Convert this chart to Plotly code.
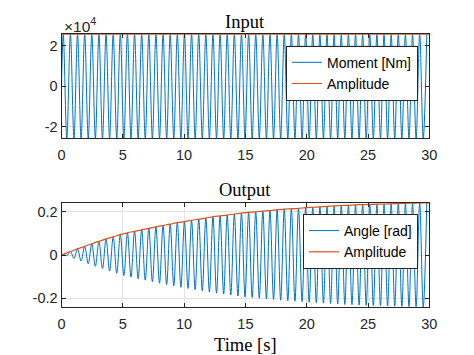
import plotly.graph_objects as go

# ---------------- data ----------------
time_ticks = [0, 5, 10, 15, 20, 25, 30]
input_ytick_vals = [-2e4, 0, 2e4]
input_ytick_text = ["-2", "0", "2"]
output_ytick_vals = [-0.2, 0, 0.2]
output_ytick_text = ["-0.2", "0", "0.2"]

signal_freq_hz = 1.72          # oscillation frequency (cycles per second)
t_end = 30.0
input_amplitude = 2.58e4       # Moment amplitude [Nm]

# output amplitude per oscillation cycle (peak of each cycle)
output_cycle_amplitude = [
    0.003, 0.016, 0.028, 0.040, 0.052, 0.063, 0.074, 0.084, 0.094, 0.102,
    0.109, 0.116, 0.123, 0.130, 0.136, 0.142, 0.149, 0.154, 0.160, 0.165,
    0.170, 0.176, 0.180, 0.184, 0.189, 0.193, 0.196, 0.199, 0.202, 0.205,
    0.208, 0.211, 0.213, 0.215, 0.218, 0.220, 0.222, 0.224, 0.226, 0.228,
    0.229, 0.231, 0.232, 0.233, 0.234, 0.235, 0.236, 0.237, 0.238, 0.239,
    0.240, 0.240,
]

BLUE = "#0072BD"
ORANGE = "#D95319"
AX = "#262626"

# ---------------- build traces ----------------
period = 1.0 / signal_freq_hz
n_cycles = len(output_cycle_amplitude)

in_t, in_y = [0.0], [0.0]
out_t, out_y = [0.0], [0.0]
peak_t = [0.0]
peak_y = [0.0]
for k in range(n_cycles):
    tp = (k + 0.25) * period
    tn = (k + 0.75) * period
    a = output_cycle_amplitude[k]
    for tt, yi, yo in ((tp, input_amplitude, a), (tn, -input_amplitude, -a)):
        if tt <= t_end:
            in_t.append(tt); in_y.append(yi)
            out_t.append(tt); out_y.append(yo)
    if tp <= t_end:
        peak_t.append(tp); peak_y.append(a)
peak_t.append(t_end); peak_y.append(output_cycle_amplitude[-1])

fig = go.Figure()
fig.add_trace(go.Scatter(x=in_t, y=in_y, mode="lines", name="Moment [Nm]",
                         line=dict(color=BLUE, width=1, shape="spline"),
                         xaxis="x", yaxis="y", legend="legend"))
fig.add_trace(go.Scatter(x=[0, t_end], y=[input_amplitude, input_amplitude], mode="lines",
                         name="Amplitude", line=dict(color=ORANGE, width=1.2),
                         xaxis="x", yaxis="y", legend="legend", cliponaxis=False))
fig.add_trace(go.Scatter(x=out_t, y=out_y, mode="lines", name="Angle [rad]",
                         line=dict(color=BLUE, width=1, shape="spline"),
                         xaxis="x2", yaxis="y2", legend="legend2"))
fig.add_trace(go.Scatter(x=peak_t, y=peak_y, mode="lines", name="Amplitude",
                         line=dict(color=ORANGE, width=1.2, shape="spline"),
                         xaxis="x2", yaxis="y2", legend="legend2", cliponaxis=False))

W, H = 474, 355
x0, x1 = 61.5 / W, 429.3 / W
top_dom = [(H - 138.3) / H, (H - 34.3) / H]
bot_dom = [(H - 307.3) / H, (H - 202.7) / H]

tickfont = dict(family="Liberation Sans, Arial, sans-serif", size=14.5, color=AX)
common_x = dict(range=[0, t_end], tickvals=time_ticks, ticktext=[str(v) for v in time_ticks],
                showline=True, linecolor=AX, linewidth=1, mirror="ticks", ticks="inside",
                ticklen=4, tickcolor=AX, showgrid=True, gridcolor="#e3e3e3", gridwidth=1,
                zeroline=False, tickfont=tickfont, domain=[x0, x1], automargin=False,
                ticklabelstandoff=3)
common_y = dict(showline=True, linecolor=AX, linewidth=1, mirror="ticks", ticks="inside",
                ticklen=4, tickcolor=AX, showgrid=True, gridcolor="#e3e3e3", gridwidth=1,
                zeroline=False, tickfont=tickfont, automargin=False)

legfont = dict(family="Liberation Sans, Arial, sans-serif", size=14, color="#000000")
serif = dict(family="Liberation Serif, Times New Roman, serif", size=18.5, color="#000000")

fig.update_layout(
    template="none",
    width=W, height=H, margin=dict(l=0, r=0, t=0, b=0, pad=0, autoexpand=False),
    paper_bgcolor="white", plot_bgcolor="white", showlegend=True,
    xaxis=dict(**common_x, anchor="y"),
    yaxis=dict(**common_y, domain=top_dom, range=[-input_amplitude, input_amplitude],
               tickvals=input_ytick_vals, ticktext=input_ytick_text, anchor="x"),
    xaxis2=dict(**common_x, anchor="y2"),
    yaxis2=dict(**common_y, domain=bot_dom, range=[-0.241, 0.241],
                tickvals=output_ytick_vals, ticktext=output_ytick_text, anchor="x2"),
    legend=dict(x=418 / W, y=(H - 45.7) / H, xanchor="right", yanchor="top",
                bgcolor="white", bordercolor=AX, borderwidth=1, font=legfont,
                tracegroupgap=0, itemwidth=30),
    legend2=dict(x=418 / W, y=(H - 214) / H, xanchor="right", yanchor="top",
                 bgcolor="white", bordercolor=AX, borderwidth=1, font=legfont,
                 tracegroupgap=0, itemwidth=30),
    annotations=[
        dict(text="Input", x=(x0 + x1) / 2, y=(H - 21.7) / H, xref="paper", yref="paper",
             showarrow=False, font=serif, xanchor="center", yanchor="middle"),
        dict(text="Output", x=(x0 + x1) / 2, y=(H - 190) / H, xref="paper", yref="paper",
             showarrow=False, font=serif, xanchor="center", yanchor="middle"),
        dict(text="Time [s]", x=(x0 + x1) / 2, y=(H - 345) / H, xref="paper", yref="paper",
             showarrow=False, font=serif, xanchor="center", yanchor="middle"),
        dict(text="×10<sup>4</sup>", x=62 / W, y=(H - 25) / H, xref="paper", yref="paper",
             showarrow=False, font=dict(family="Liberation Sans, Arial, sans-serif", size=15.5, color=AX),
             xanchor="left", yanchor="middle"),
    ],
)

fig.write_html("out.html", config={"displayModeBar": False},
               post_script="document.body.style.margin='0px';document.body.style.padding='0px';")
